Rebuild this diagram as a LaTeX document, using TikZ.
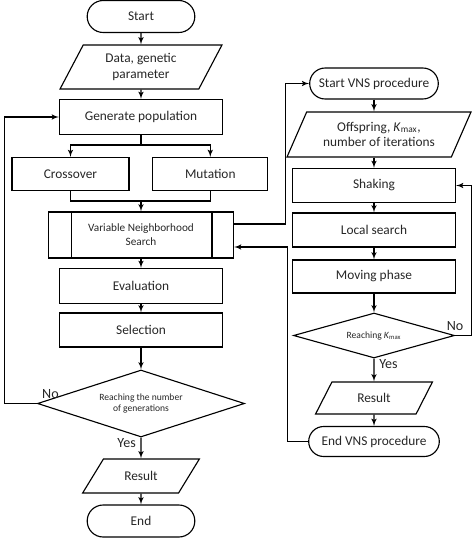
\documentclass[tikz,border=0pt]{standalone}
\usepackage{fontspec}
\setmainfont{Carlito}
\usetikzlibrary{shapes.geometric, shapes.misc, arrows, positioning, calc}
\tikzstyle{terminal} = [rounded rectangle, draw, minimum width=2.925cm, minimum height=0.8cm, thick, font=\fontsize{9.5}{11}\selectfont]
\tikzstyle{io} = [trapezium, trapezium left angle=67, trapezium right angle=113, trapezium stretches=true, draw, minimum width=4.075cm, minimum height=1.1cm, align=center, inner xsep=2pt, thick, font=\fontsize{9.5}{11}\selectfont]
\tikzstyle{process} = [rectangle, draw, minimum width=4.075cm, minimum height=0.875cm, align=center, thick, font=\fontsize{9.5}{11}\selectfont]
\tikzstyle{predef} = [rectangle, draw, minimum width=4.625cm, minimum height=1.15cm, align=center, thick, font=\fontsize{8}{10}\selectfont]
\tikzstyle{decision} = [diamond, draw, inner sep=0pt, align=center, thick, font=\fontsize{6.8}{8}\selectfont]
\tikzstyle{line} = [draw, -latex', thick]

\begin{document}
\begin{tikzpicture}[node distance=1.25cm, auto, text=black!85]
        \useasboundingbox (-3.525,0.4125) rectangle (8.325,-13.0625);
        % GA nodes
        \node [terminal] (start) {Start};
        \node [io, below of=start, node distance=1.2625cm] (data) {Data, genetic\\parameter};
        \node [process, below of=data] (genpop) {Generate population};
        \node [process, below of=genpop, node distance=1.425cm, xshift=-1.7625cm, minimum width=2.925cm, minimum height=0.825cm] (cross) {Crossover};
        \node [process, right of=cross, node distance=3.495cm, minimum width=2.875cm, minimum height=0.825cm] (mut) {Mutation};
        \node [predef, below of=genpop, node distance=2.95cm] (vns) {Variable Neighborhood\\Search};
        \node [process, below of=vns, node distance=1.275cm] (eval) {Evaluation};
        \node [process, below of=eval, node distance=1.1cm, minimum height=0.85cm] (select) {Selection};
        \node [decision, below of=select, node distance=1.8375cm, aspect=3.1, minimum width=5.175cm, minimum height=1.675cm] (stop) {Reaching the number\\of generations};
        \node [io, below of=stop, node distance=1.8125cm, trapezium left angle=60, trapezium right angle=120, minimum width=2.925cm, minimum height=0.85cm] (result) {Result};
        \node [terminal, below of=result, node distance=1.125cm] (end) {End};
        \draw [thick] ([xshift=0.6cm]vns.north west) -- ([xshift=0.6cm]vns.south west);
        \draw [thick] ([xshift=-0.55cm]vns.north east) -- ([xshift=-0.55cm]vns.south east);

        % VNS nodes
        \node [terminal, right of=data, node distance=5.825cm, yshift=-0.4125cm, minimum width=3.45cm, minimum height=0.775cm] (vnsstart) {Start VNS procedure};
        \node [io, below of=vnsstart, node distance=1.275cm, xshift=0.125cm, minimum width=4.6cm, minimum height=1.125cm, trapezium left angle=65, trapezium right angle=115] (offspring) {Offspring, \textit{K}\textsubscript{max},\\number of iterations};
        \node [process, below of=offspring, node distance=1.275cm, xshift=-0.125cm, minimum height=0.85cm] (shaking) {Shaking};
        \node [process, below of=shaking, node distance=1.1125cm, minimum height=0.85cm] (local) {Local search};
        \node [process, below of=local, node distance=1.1625cm, minimum height=0.825cm] (moving) {Moving phase};
        \node [decision, below of=moving, node distance=1.475cm, aspect=3.6, minimum width=4.025cm, minimum height=1.125cm] (kmax) {Reaching \textit{K}\textsubscript{max}};
        \node [io, below of=kmax, node distance=1.5625cm, trapezium left angle=68, trapezium right angle=112, minimum width=2.925cm, minimum height=0.8cm] (vnsresult) {Result};
        \node [terminal, below of=vnsresult, node distance=1.0875cm, minimum width=3.5cm, minimum height=0.75cm] (vnsend) {End VNS procedure};

        % GA edges
        \coordinate [below of=genpop, node distance=0.7cm] (split);
        \coordinate [above of=vns, node distance=0.85cm] (merge);
        \path [line] (start) -- (data);
        \path [line] (data) -- (genpop);
        \draw [thick] (genpop) -- (split);
        \path [line] (split) -| (cross);
        \path [line] (split) -| (mut);
        \draw [thick] (cross) |- (merge);
        \draw [thick] (mut) |- (merge);
        \path [line] (merge) -- (vns);
        \path [line] (vns) -- (eval);
        \path [line] (eval) -- (select);
        \path [line] (select) -- (stop);
        \path [line] (stop) -- node [left, near start] {Yes} (result);
        \path [line] (result) -- (end);
        \path [line] (stop.west) node [above right] {No} -- ++(-0.8cm,0) |- (genpop.west);

        % VNS edges
        \path [line] ([yshift=0.275cm]vns.east) -- ++(1.275cm,0) |- (vnsstart.west);
        \path [line] (vnsend.west) -- ++(-0.525cm,0) |- ([yshift=-0.3cm]vns.east);
        \path [line] (vnsstart.south) -- (vnsstart.south |- offspring.north);
        \path [line] (offspring.south -| shaking.north) -- (shaking.north);
        \path [line] (shaking) -- (local);
        \path [line] (local) -- (moving);
        \path [line] (moving) -- (kmax);
        \path [line] (kmax) -- node [right, near start] {Yes} (vnsresult);
        \path [line] (vnsresult) -- (vnsend);
        \path [line] (kmax.east) node [above] {No} -- ++(0.4cm,0) |- (shaking.east);
    \end{tikzpicture}
\end{document}
